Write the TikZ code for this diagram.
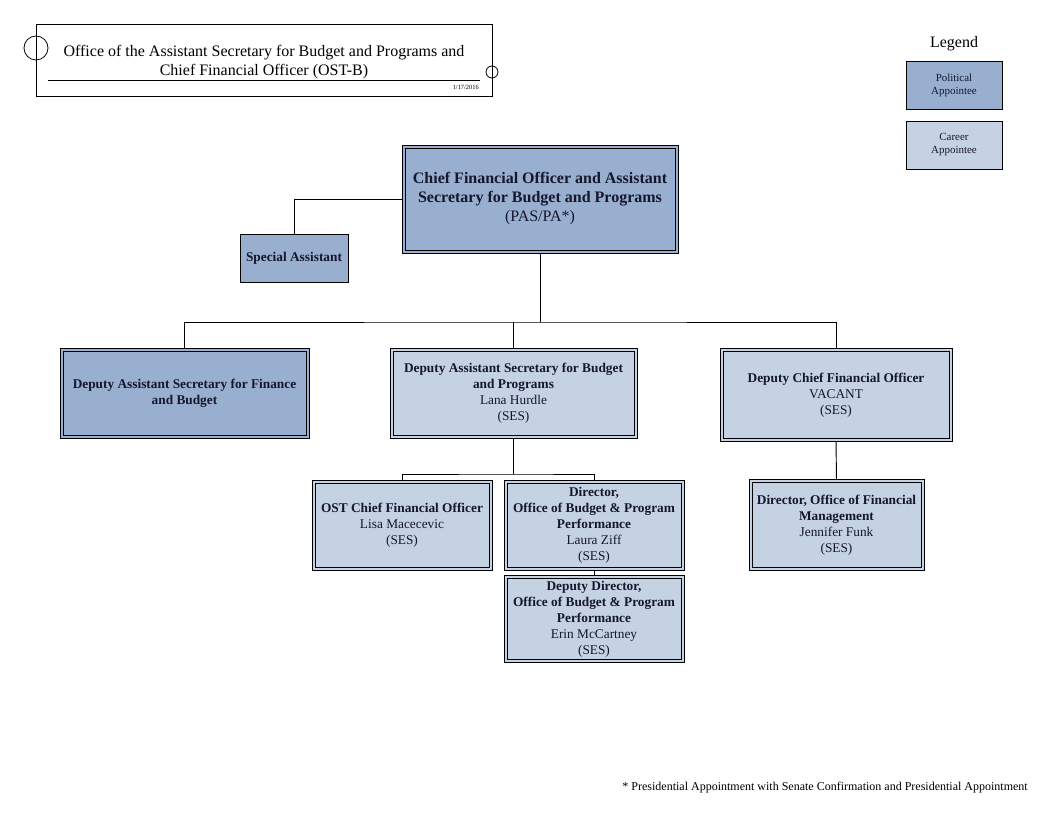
\documentclass[tikz,border=0pt]{standalone}
\usepackage{fontspec}
\setmainfont{Liberation Serif}
\usetikzlibrary{backgrounds}
\definecolor{polfill}{RGB}{152,175,207}
\definecolor{carfill}{RGB}{196,210,228}
\definecolor{txt}{RGB}{22,22,45}
\begin{document}
\begin{tikzpicture}[x=0.75pt,y=-0.75pt,
  box/.style={draw=black,line width=0.6pt,align=center,inner sep=2pt,text=txt,font=\fontsize{10}{12}\selectfont},
  polbox/.style={box,fill=polfill},
  carbox/.style={box,fill=carfill},
  frame/.style={draw=black,line width=0.6pt},
  sbox/.style={draw=black,line width=0.6pt,align=center,inner sep=2pt,text=txt},
  conn/.style={draw=black,line width=0.7pt}]
\useasboundingbox (0,0) rectangle (1056,816);
% title block
\node[draw=black,line width=0.6pt,minimum width=342pt,minimum height=54pt,inner sep=0pt] (title) at (264,60) {};
\node[align=center,font=\fontsize{12}{14.25}\selectfont] (titletext) at (264,62.5) {Office of the Assistant Secretary for Budget and Programs and\\Chief Financial Officer (OST-B)};
\coordinate (tl1) at (48,80);
\coordinate (tl2) at (480,80);
\draw[line width=0.6pt] (tl1) -- (tl2);
\coordinate (c1) at (36,48);
\coordinate (c2) at (492,72);
\draw[line width=0.6pt] (c1) circle[radius=9pt];
\draw[line width=0.6pt] (c2) circle[radius=4.5pt];
\node[anchor=east,font=\fontsize{4.8}{5}\selectfont,inner sep=0pt] (date) at (479,87) {1/17/2016};
% legend
\node[font=\fontsize{12}{14}\selectfont] (legend) at (954,44) {Legend};
\node[sbox,fill=polfill,minimum width=72pt,minimum height=36pt,font=\fontsize{8.2}{9.75}\selectfont] (lpol) at (954,85) {Political\\Appointee};
\node[sbox,fill=carfill,minimum width=72pt,minimum height=36pt,font=\fontsize{8.2}{9.75}\selectfont] (lcar) at (954,145) {Career\\Appointee};
% boxes
\node[polbox,minimum width=202.5pt,minimum height=76.5pt,font=\fontsize{12}{14.25}\selectfont] (cfo) at (540,199)
  {\textbf{Chief Financial Officer and Assistant}\\\textbf{Secretary for Budget and Programs}\\(PAS/PA*)};
\node[sbox,fill=polfill,minimum width=81pt,minimum height=36pt,font=\fontsize{10}{12}\selectfont] (sa) at (294,258.5) {\textbf{Special Assistant}};
\node[polbox,minimum width=182.25pt,minimum height=63pt] (dasf) at (184.5,393)
  {\textbf{Deputy Assistant Secretary for Finance}\\\textbf{and Budget}};
\node[carbox,minimum width=180.75pt,minimum height=63pt] (dasb) at (513.5,393.5)
  {\textbf{Deputy Assistant Secretary for Budget}\\\textbf{and Programs}\\Lana Hurdle\\(SES)};
\node[carbox,minimum width=169.5pt,minimum height=65.25pt] (dcfo) at (836,395)
  {\textbf{Deputy Chief Financial Officer}\\VACANT\\(SES)};
\node[carbox,minimum width=130.5pt,minimum height=63pt] (ost) at (402,525)
  {\textbf{OST Chief Financial Officer}\\Lisa Macecevic\\(SES)};
\node[carbox,minimum width=130.5pt,minimum height=63pt] (obpp) at (594,525.5)
  {\textbf{Director,}\\\textbf{Office of Budget \& Program}\\\textbf{Performance}\\Laura Ziff\\(SES)};
\node[carbox,minimum width=130.5pt,minimum height=57pt] (dd) at (594,619)
  {\textbf{Deputy Director,}\\\textbf{Office of Budget \& Program}\\\textbf{Performance}\\Erin McCartney\\(SES)};
\node[carbox,minimum width=126.75pt,minimum height=63.75pt] (ofm) at (836.5,525)
  {\textbf{Director, Office of Financial}\\\textbf{Management}\\Jennifer Funk\\(SES)};
% connectors and outer frames
\coordinate (bus1) at (540,322);
\coordinate (bus2) at (513.5,474);
\begin{scope}[on background layer]
\draw[conn] (cfo.west) -| (sa.north);
\draw[conn] (cfo.south) -- (bus1);
\draw[conn] (dasf.north) |- (bus1) -| (dcfo.north);
\draw[conn] (dasb.north) -- (dasb.north |- bus1);
\draw[conn] (dasb.south) -- (bus2);
\draw[conn] (ost.north) |- (bus2) -| (obpp.north);
\draw[conn] (obpp.south) -- (dd.north);
\draw[conn] (dcfo.south) -- (ofm.north);
\foreach \n/\c in {cfo/polfill,dasf/polfill,dasb/carfill,dcfo/carfill,ost/carfill,obpp/carfill,dd/carfill,ofm/carfill}{
  \draw[frame,fill=\c] ([xshift=-2pt,yshift=2pt]\n.north west) rectangle ([xshift=2pt,yshift=-2pt]\n.south east);
}
\end{scope}
% footnote
\node[anchor=east,font=\fontsize{9}{10}\selectfont,inner sep=0pt] (foot) at (1028,788)
  {* Presidential Appointment with Senate Confirmation and Presidential Appointment};
\end{tikzpicture}
\end{document}
